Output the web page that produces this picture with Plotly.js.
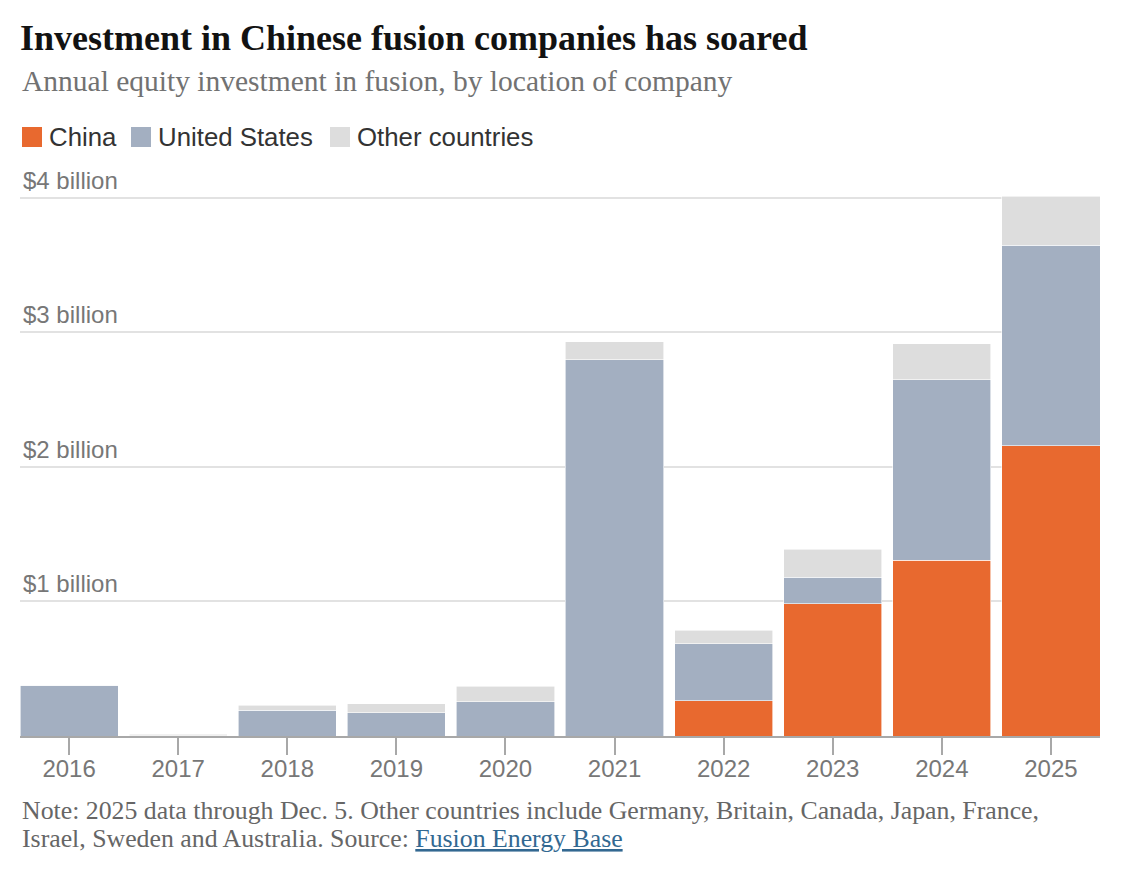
<!DOCTYPE html>
<html>
<head>
<meta charset="utf-8">
<script src="https://cdn.plot.ly/plotly-3.0.1.min.js"></script>
<style>
  html, body { margin: 0; padding: 0; background: #fff; }
  #chart { width: 1128px; height: 888px; }
</style>
</head>
<body>
<div id="chart"></div>
<script>
// Annual equity investment in fusion companies, billions of US dollars
const years = ['2016', '2017', '2018', '2019', '2020', '2021', '2022', '2023', '2024', '2025'];
const china = [0, 0, 0, 0, 0, 0, 0.262, 0.981, 1.305, 2.156];
const unitedStates = [0.376, 0.003, 0.190, 0.173, 0.255, 2.796, 0.422, 0.197, 1.344, 1.491];
const otherCountries = [0, 0.010, 0.037, 0.067, 0.116, 0.134, 0.102, 0.211, 0.266, 0.365];

const seriesNames = ['China', 'United States', 'Other countries'];
const seriesColors = ['#e8692f', '#a3afc1', '#dddddd'];

const yTickVals = [1, 2, 3, 4];
const yTickText = ['$1 billion', '$2 billion', '$3 billion', '$4 billion'];

const W = 1128, H = 888;
const M = { l: 20, r: 28, t: 191, b: 152 };
const plotW = W - M.l - M.r, plotH = H - M.t - M.b;
// helpers converting page pixels to paper coordinates for the header and footer
const px = v => (v - M.l) / plotW;
const py = v => (H - M.b - v) / plotH;

const sans = 'Liberation Sans, Arial, sans-serif';
const serif = 'Liberation Serif, Times New Roman, serif';
const axisGrey = '#a8a8a8';
const labelGrey = '#777777';

const traces = [china, unitedStates, otherCountries].map((vals, i) => ({
  type: 'bar',
  name: seriesNames[i],
  x: years,
  y: vals,
  marker: { color: seriesColors[i], line: { color: '#ffffff', width: 0.6 } },
  hoverinfo: 'x+y+name',
  showlegend: false
}));

const shapes = [];
const annotations = [];

// value labels sitting just above each gridline
yTickVals.forEach((v, i) => {
  annotations.push({
    xref: 'paper', yref: 'y',
    x: 0, y: v, xshift: 1, yshift: 2,
    xanchor: 'left', yanchor: 'bottom',
    text: yTickText[i], showarrow: false,
    font: { family: sans, size: 24, color: labelGrey }
  });
});

// legend: colour swatch followed by its label
const legendX = [22, 131, 330];
seriesNames.forEach((name, i) => {
  shapes.push({
    type: 'rect', xref: 'paper', yref: 'paper',
    x0: px(legendX[i]), x1: px(legendX[i] + 20),
    y0: py(147), y1: py(127),
    fillcolor: seriesColors[i], line: { width: 0 }
  });
  annotations.push({
    xref: 'paper', yref: 'paper',
    x: px(legendX[i] + 25), y: py(137),
    xanchor: 'left', yanchor: 'middle',
    text: name, showarrow: false,
    font: { family: sans, size: 25.8, color: '#333333' }
  });
});

// subtitle
annotations.push({
  xref: 'paper', yref: 'paper',
  x: px(20), y: py(81),
  xanchor: 'left', yanchor: 'middle',
  text: 'Annual equity investment in fusion, by location of company',
  showarrow: false,
  font: { family: serif, size: 29.5, color: '#727272' }
});

// footnote with source, one annotation per line
const noteLines = [
  'Note: 2025 data through Dec. 5. Other countries include Germany, Britain, Canada, Japan, France,',
  'Israel, Sweden and Australia. Source: <a href="https://www.fusionenergybase.com/" style="color:#326891"><u>Fusion Energy Base</u></a>'
];
const noteY = [810, 838];
noteLines.forEach((line, i) => {
  annotations.push({
    xref: 'paper', yref: 'paper',
    x: px(20), y: py(noteY[i]),
    xanchor: 'left', yanchor: 'middle',
    text: line, showarrow: false,
    font: { family: serif, size: 25.8, color: '#666666' }
  });
});

const layout = {
  width: W, height: H,
  margin: M,
  paper_bgcolor: '#ffffff',
  plot_bgcolor: '#ffffff',
  barmode: 'stack',
  bargap: 0.1,
  title: {
    text: '<b>Investment in Chinese fusion companies has soared</b>',
    x: 20 / W, xanchor: 'left',
    y: 1 - 37 / H, yanchor: 'middle', yref: 'container',
    font: { family: serif, size: 36, color: '#121212' }
  },
  xaxis: {
    type: 'category',
    range: [-0.45, 9.45],
    fixedrange: true,
    showgrid: false,
    showline: true, linecolor: axisGrey, linewidth: 2,
    ticks: 'outside', ticklen: 17, tickwidth: 1.5, tickcolor: axisGrey,
    ticklabelstandoff: -7,
    tickfont: { family: sans, size: 24, color: labelGrey },
    zeroline: false
  },
  yaxis: {
    range: [0, 4.05],
    fixedrange: true,
    tickmode: 'array',
    tickvals: yTickVals,
    showticklabels: false,
    ticks: '',
    showgrid: true, gridcolor: '#e2e2e2', gridwidth: 2,
    zeroline: false,
    showline: false
  },
  shapes: shapes,
  annotations: annotations,
  showlegend: false
};

Plotly.newPlot('chart', traces, layout, { displayModeBar: false, responsive: false });
</script>
</body>
</html>
